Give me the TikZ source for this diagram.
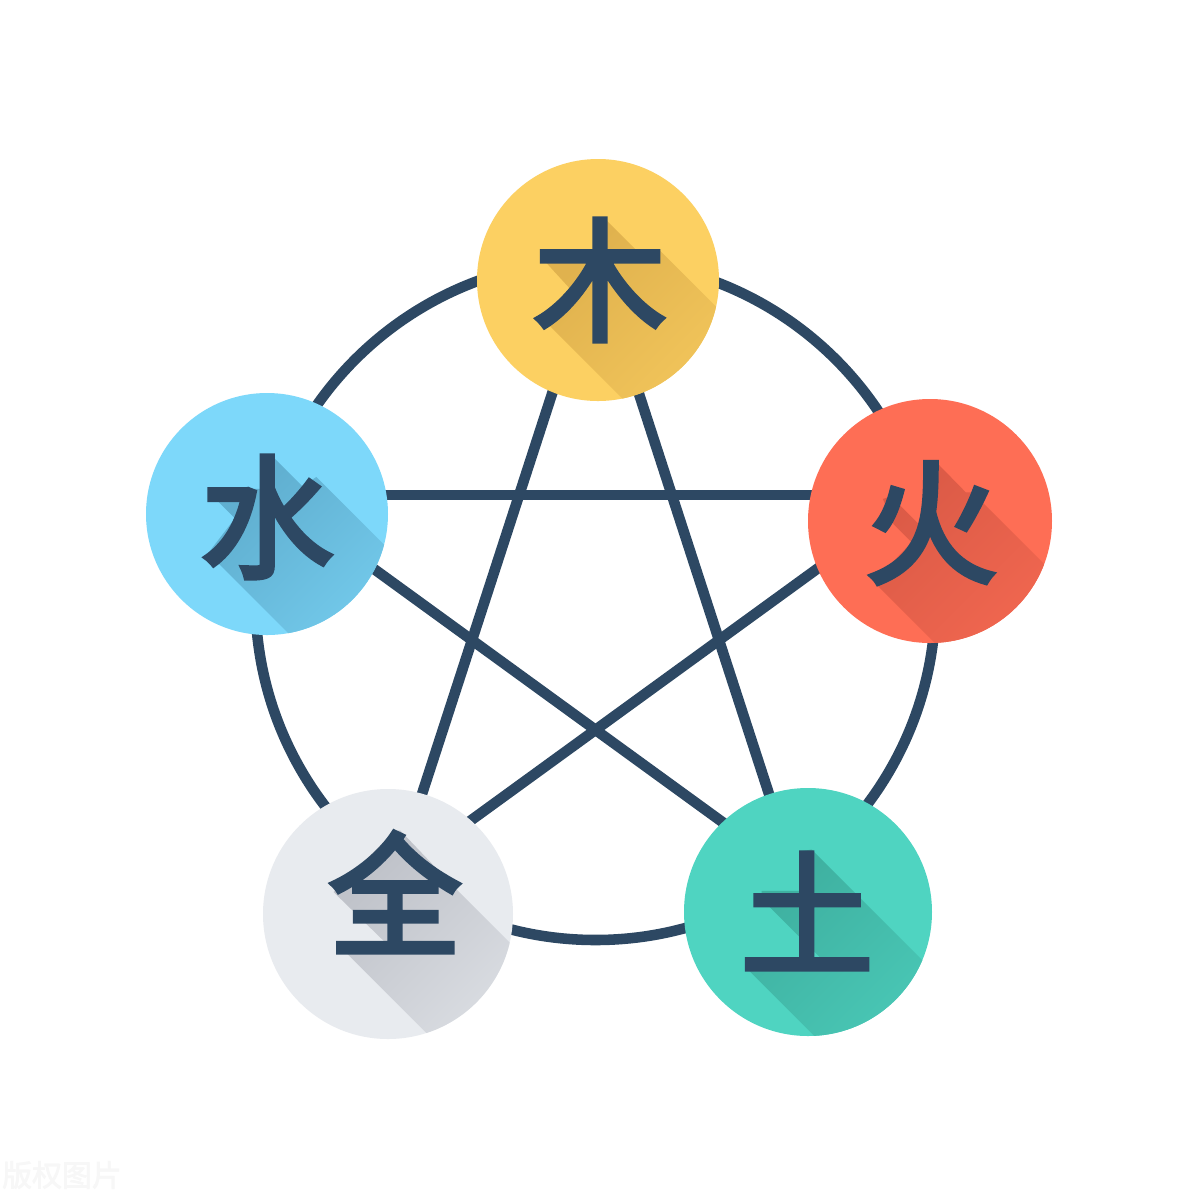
\documentclass[tikz,border=0pt]{standalone}
\usepackage{fontspec}
\newfontfamily\cjk[FakeBold=3.5]{Noto Sans CJK SC}
\newfontfamily\cjkwm[FakeBold=2]{Noto Sans CJK SC}
\usetikzlibrary{calc}
\definecolor{navy}{HTML}{2D4863}
\definecolor{muC}{HTML}{FCD062}\definecolor{muS}{HTML}{E0B24E}
\definecolor{huoC}{HTML}{FE6E55}\definecolor{huoS}{HTML}{DC5B47}
\definecolor{shuiC}{HTML}{7DD8FA}\definecolor{shuiS}{HTML}{60AFD0}
\definecolor{jinC}{HTML}{E8EBEF}\definecolor{jinS}{HTML}{C0C3CA}
\definecolor{tuC}{HTML}{4FD4C1}\definecolor{tuS}{HTML}{3FB1A1}
\tikzset{
  elem/.style={circle, inner sep=0pt, minimum size=#1, draw=none},
  glyph/.style={font=\cjk\fontsize{38}{38}\selectfont, text=navy, inner sep=0pt},
  link/.style={draw=navy, line width=3pt},
  longshade/.style 2 args={x=1.3355cm, y=1.3355cm, top color=#1, bottom color=#2, shading angle=45},
}
\begin{document}
\begin{tikzpicture}
\fill[white] (0,0) rectangle (12,-12);
\useasboundingbox (0,0) rectangle (12,-12);
% big circle and pentagram vertices
\coordinate (O) at (5.955,-6.00);
\node[circle, draw=navy, line width=3pt, minimum size=6.8cm, inner sep=0pt] (ring) at (O) {};
\coordinate (v1) at ($(O)+(90:3.4)$);
\coordinate (v2) at ($(O)+(18:3.4)$);
\coordinate (v3) at ($(O)+(-54:3.4)$);
\coordinate (v4) at ($(O)+(-126:3.4)$);
\coordinate (v5) at ($(O)+(162:3.4)$);
\draw[link] (v5) -- (v2);
\draw[link] (v5) -- (v3);
\draw[link] (v1) -- (v4);
\draw[link] (v1) -- (v3);
\draw[link] (v2) -- (v4);
% element discs
\node[elem=2.42cm, fill=muC] (mu) at (5.98,-2.80) {};
\node[elem=2.44cm, fill=huoC] (huo) at (9.30,-5.21) {};
\node[elem=2.42cm, fill=shuiC] (shui) at (2.67,-5.14) {};
\node[elem=2.50cm, fill=jinC] (jin) at (3.88,-9.14) {};
\node[elem=2.48cm, fill=tuC] (tu) at (8.08,-9.12) {};
% glyph centres
\coordinate (gmu) at (6.00,-2.80);
\coordinate (ghuo) at (9.31,-5.23);
\coordinate (gshui) at (2.67,-5.17);
\coordinate (gjin) at (3.95,-8.92);
\coordinate (gtu) at (8.07,-9.11);
% long shadows
\begin{scope}
  \clip (mu.center) circle[radius=1.21cm];
  \shade[longshade={muS}{muC}, shift={(gmu)}]
    (-0.44,-0.28) -- (-0.22,-0.07) -- (-0.44,0.17) -- (-0.44,0.23) -- (-0.03,0.23) -- (-0.03,0.46) -- (0.035,0.46) -- (0.265,0.23) -- (0.44,0.23) -- (1.64,-0.97) -- (0.76,-1.48) -- cycle;
\end{scope}
\begin{scope}
  \clip (huo.center) circle[radius=1.22cm];
  \shade[longshade={huoS}{huoC}, shift={(ghuo)}]
    (-0.43,-0.44) -- (-0.145,-0.145) -- (-0.28,-0.01) -- (-0.36,0.18) -- (-0.30,0.20) -- (-0.04,-0.06) -- (-0.035,0.45) -- (0.035,0.46) -- (0.26,0.23) -- (0.31,0.23) -- (1.51,-0.97) -- (0.77,-1.64) -- cycle;
\end{scope}
\begin{scope}
  \clip (shui.center) circle[radius=1.21cm];
  \shade[longshade={shuiS}{shuiC}, shift={(gshui)}]
    (-0.44,-0.27) -- (-0.24,-0.01) -- (-0.40,0.15) -- (-0.40,0.21) -- (-0.035,0.21) -- (-0.035,0.45) -- (0.035,0.46) -- (0.265,0.23) -- (0.37,0.30) -- (1.57,-0.90) -- (0.76,-1.47) -- cycle;
\end{scope}
\begin{scope}
  \clip (jin.center) circle[radius=1.25cm];
  \shade[longshade={jinS}{jinC}, shift={(gjin)}]
    (-0.38,-0.44) -- (-0.38,-0.39) -- (-0.06,-0.39) -- (-0.46,0.0) -- (0.0,0.46) -- (0.04,0.46) -- (0.46,0.02) -- (1.66,-1.18) -- (0.82,-1.64) -- cycle;
\end{scope}
\begin{scope}
  \clip (tu.center) circle[radius=1.24cm];
  \shade[longshade={tuS}{tuC}, shift={(gtu)}]
    (-0.45,-0.43) -- (-0.45,-0.37) -- (0.12,-0.37) -- (-0.34,0.09) -- (-0.34,0.15) -- (-0.035,0.15) -- (-0.035,0.45) -- (0.035,0.46) -- (0.345,0.15) -- (1.545,-1.05) -- (0.75,-1.63) -- cycle;
\end{scope}
% glyphs
\node[glyph] (tmu) at (gmu) {木};
\node[glyph] (thuo) at (ghuo) {火};
\node[glyph] (tshui) at (gshui) {水};
\node[glyph] (tjin) at (gjin) {全};
\node[glyph] (ttu) at (gtu) {土};
% watermark
\node[font=\cjkwm\fontsize{8.5}{8.5}\selectfont, text=black!3, inner sep=0pt] (wm) at (0.62,-11.75) {版权图片};
\end{tikzpicture}
\end{document}
